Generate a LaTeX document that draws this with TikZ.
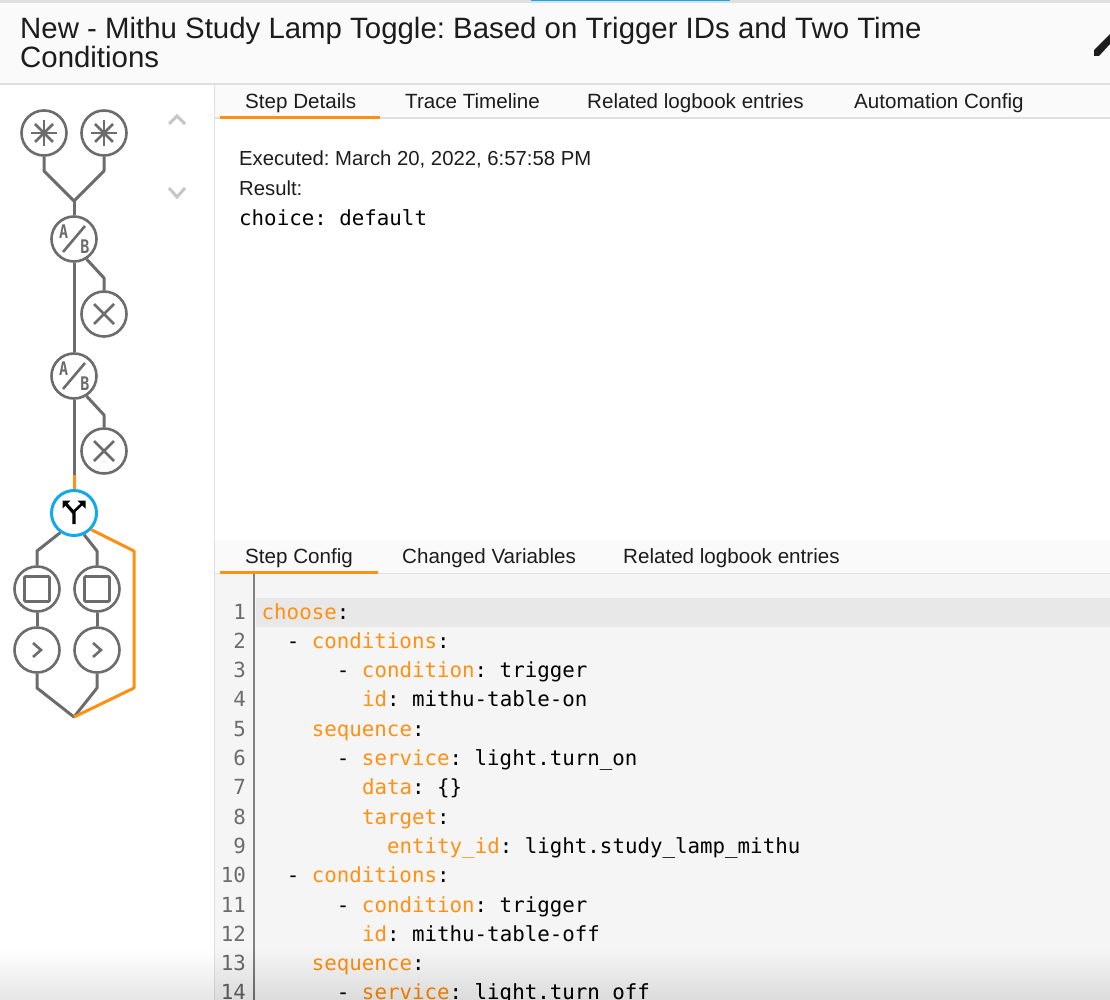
\documentclass[tikz,border=0pt]{standalone}
\usepackage{fontspec}
\setmainfont{Liberation Sans}
\newfontfamily\codefont{DejaVu Sans Mono}
\newfontfamily\abfont{DejaVu Sans Mono Bold}
\definecolor{flowgray}{HTML}{6C6C6C}
\definecolor{flowora}{HTML}{FF9012}
\definecolor{flowblue}{HTML}{12A8EE}
\definecolor{inkdark}{HTML}{1C1C1C}
\definecolor{rulegray}{HTML}{E0E0E0}
\definecolor{barbg}{HTML}{FAFAFA}
\definecolor{codebg}{HTML}{F5F5F5}
\definecolor{activebg}{HTML}{E8E8E8}
\definecolor{chevgray}{HTML}{C6C6C6}
\newcommand{\kw}[1]{\textcolor{flowora}{#1}}
\tikzset{
  x=1pt,y=-1pt,
  flownode/.style={circle,draw=flowgray,line width=2.6pt,fill=white,minimum size=45pt,inner sep=0pt},
  activenode/.style={flownode,draw=flowblue,line width=3pt},
  edge/.style={draw=flowgray,line width=3pt,line join=round},
  hotedge/.style={draw=flowora,line width=3pt,line join=round},
  icon/.style={draw=flowgray,line width=2.6pt},
  tabtext/.style={anchor=base west,inner sep=0pt,font=\fontsize{20.6}{20.6}\selectfont,text=inkdark},
  titletext/.style={anchor=base west,inner sep=0pt,font=\fontsize{29.4}{29.4}\selectfont,text=inkdark},
  bodytext/.style={anchor=base west,inner sep=0pt,font=\fontsize{20.3}{20.3}\selectfont,text=inkdark},
  codetext/.style={anchor=base west,inner sep=0pt,font=\frenchspacing\codefont\fontsize{20.8}{20.8}\selectfont,text=black},
  numtext/.style={anchor=base east,inner sep=0pt,font=\codefont\fontsize{20.8}{20.8}\selectfont,text=flowgray},
  abtext/.style={inner sep=0pt,font=\abfont\fontsize{15}{15}\selectfont,text=flowgray},
  chev/.style={draw=chevgray,line width=3pt}
}
\newcommand{\codeln}[3]{%
  \node[numtext] (num#1) at (246,{619+(#1-1)*29.3}) {#1};
  \node[codetext] (code#1) at ({261.5+#2*12.54},{619+(#1-1)*29.3}) {#3};}
\begin{document}
\frenchspacing
\begin{tikzpicture}
\useasboundingbox (0,0) rectangle (1110,1000);
\fill[white] (0,0) rectangle (1110,1000);
% header
\fill[barbg] (0,3) rectangle (1110,84);
\fill[rulegray] (0,0) rectangle (1110,3);
\fill[flowblue] (531,0) rectangle (730,1.2);
\fill[rulegray] (0,83) rectangle (1110,85);
\node[titletext] (title1) at (20,38.7) {New - Mithu Study Lamp Toggle: Based on Trigger IDs and Two Time};
\node[titletext] (title2) at (20,68) {Conditions};
\fill[inkdark] (1094,56) -- (1094,50) -- (1110,34) -- (1110,44) -- (1099,56) -- cycle;
% upper tabs
\fill[barbg] (215,85) rectangle (1110,118);
\fill[rulegray] (213.5,85) rectangle (215,1000);
\fill[rulegray] (215,117.5) rectangle (1110,119);
\fill[flowora] (220,116) rectangle (380,119);
\node[tabtext] (tabA) at (245,109) {Step Details};
\node[tabtext] (tabB) at (405,109) {Trace Timeline};
\node[tabtext] (tabC) at (587,109) {Related logbook entries};
\node[tabtext] (tabD) at (854,109) {Automation Config};
% details
\node[bodytext] (exec) at (239,165.8) {Executed: March 20, 2022, 6:57:58 PM};
\node[bodytext] (res) at (239,195.8) {Result:};
\node[codetext] (choice) at (239,225.8) {choice: default};
% lower tabs
\fill[barbg] (215,540) rectangle (1110,573);
\fill[rulegray] (215,572.5) rectangle (1110,574);
\fill[flowora] (220,571) rectangle (378,574);
\node[tabtext] (tabE) at (245,563.5) {Step Config};
\node[tabtext] (tabF) at (402,563.5) {Changed Variables};
\node[tabtext] (tabG) at (623,563.5) {Related logbook entries};
% code
\fill[codebg] (215,574) rectangle (1110,1000);
\fill[activebg] (256,598) rectangle (1110,627);
\fill[gray] (253,574) rectangle (255,1000);
\codeln{1}{0}{\kw{choose}:}
\codeln{2}{2}{- \kw{conditions}:}
\codeln{3}{6}{- \kw{condition}: trigger}
\codeln{4}{8}{\kw{id}: mithu-table-on}
\codeln{5}{4}{\kw{sequence}:}
\codeln{6}{6}{- \kw{service}: light.turn\_on}
\codeln{7}{8}{\kw{data}: \{\}}
\codeln{8}{8}{\kw{target}:}
\codeln{9}{10}{\kw{entity\_id}: light.study\_lamp\_mithu}
\codeln{10}{2}{- \kw{conditions}:}
\codeln{11}{6}{- \kw{condition}: trigger}
\codeln{12}{8}{\kw{id}: mithu-table-off}
\codeln{13}{4}{\kw{sequence}:}
\codeln{14}{6}{- \kw{service}: light.turn\_off}
% nodes
\node[flownode] (t1) at (44,133) {};
\node[flownode] (t2) at (104,133) {};
\node[flownode] (ab1) at (74,239) {};
\node[flownode] (x1) at (104,314) {};
\node[flownode] (ab2) at (74,376) {};
\node[flownode] (x2) at (104,451) {};
\node[activenode] (fork) at (74,513) {};
\node[flownode] (sq1) at (37,589) {};
\node[flownode] (sq2) at (97,589) {};
\node[flownode] (ch1) at (37,650) {};
\node[flownode] (ch2) at (97,650) {};
% bends
\coordinate (b1) at (44,171);
\coordinate (b2) at (104,171);
\coordinate (m1) at (74,201);
\coordinate (b3) at (104,278);
\coordinate (b4) at (104,415);
\coordinate (sw) at (74,475);
\coordinate (b5) at (37,551);
\coordinate (b6) at (97,551);
\coordinate (b7) at (134,551);
\coordinate (b8) at (37,688);
\coordinate (b9) at (97,688);
\coordinate (b10) at (134,688);
\coordinate (m2) at (74,717);
% connectors
\draw[edge] (t1) -- (b1) -- (m1) -- (b2) -- (t2);
\draw[edge] (m1) -- (ab1);
\draw[edge] (ab1.-58) -- (b3) -- (x1);
\draw[edge] (ab1) -- (ab2);
\draw[edge] (ab2.-58) -- (b4) -- (x2);
\draw[edge] (ab2) -- (sw);
\draw[hotedge] (sw) -- (fork);
\draw[edge] (fork.-125) -- (b5) -- (sq1);
\draw[edge] (fork.-65) -- (b6) -- (sq2);
\draw[edge] (sq1) -- (ch1);
\draw[edge] (sq2) -- (ch2);
\draw[edge] (ch1) -- (b8) -- (m2) -- (b9) -- (ch2);
\draw[hotedge] (fork.-44) -- (b7) -- (b10) -- (m2);
% asterisks
\foreach \n in {t1,t2}{
\begin{scope}[shift={(\n.center)}]
\draw[icon] (-13,0) -- (13,0);
\draw[icon] (0,-13) -- (0,13);
\draw[icon] (-9,-9) -- (9,9);
\draw[icon] (-9,9) -- (9,-9);
\end{scope}}
% crosses
\foreach \n in {x1,x2}{
\begin{scope}[shift={(\n.center)}]
\draw[icon] (-10,-10) -- (10,10);
\draw[icon] (-10,10) -- (10,-10);
\end{scope}}
% A/B
\foreach \n in {ab1,ab2}{
\begin{scope}[shift={(\n.center)}]
\draw[icon] (-11,13) -- (11,-13);
\node[abtext] (\n A) at (-10.3,-7.5) {\scalebox{1}[1.25]{A}};
\node[abtext] (\n B) at (11,7.5) {\scalebox{1}[1.25]{B}};
\end{scope}}
% squares
\foreach \n in {sq1,sq2}{
\begin{scope}[shift={(\n.center)}]
\draw[icon,rounded corners=1pt] (-12.5,-12.5) rectangle (12.5,12.5);
\end{scope}}
% chevrons
\foreach \n in {ch1,ch2}{
\begin{scope}[shift={(\n.center)}]
\draw[icon] (-4,-7) -- (4,0) -- (-4,7);
\end{scope}}
% fork icon
\begin{scope}[shift={(fork.center)}]
\draw[black,line width=3.2pt] (0,11) -- (0,0) -- (-8,-9);
\draw[black,line width=2.6pt] (0.5,-2) -- (8.5,-9.5);
\fill[black] (-11.5,-12.5) -- (-3.5,-12.5) -- (-11.5,-4.5) -- cycle;
\fill[black] (11.5,-12.5) -- (3.5,-12.5) -- (11.5,-4.5) -- cycle;
\end{scope}
% nav chevrons
\draw[chev] (169,124) -- (177,116) -- (185,124);
\draw[chev] (169,188) -- (177,197) -- (185,188);
% bottom fade
\foreach \y in {950,952,...,998}{
  \fill[black,opacity=0.004] (0,\y) rectangle (1110,1000);
}
\end{tikzpicture}
\end{document}
